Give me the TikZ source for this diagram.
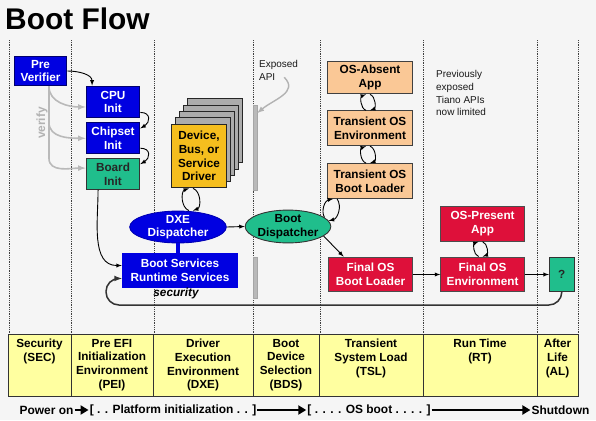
\documentclass[tikz,border=0pt]{standalone}
\usepackage{fontspec}
\setmainfont{Liberation Sans}
\setsansfont{Liberation Sans}
\usepackage{tikz}
\usetikzlibrary{arrows,arrows.meta,shapes,positioning}

\definecolor{BlueBox}{RGB}{0,0,225}
\definecolor{NavyLine}{RGB}{0,0,110}
\definecolor{TealBox}{RGB}{32,190,140}
\definecolor{RedBox}{RGB}{222,16,58}
\definecolor{TanBox}{RGB}{250,200,150}
\definecolor{DriverGold}{RGB}{245,190,30}
\definecolor{PhaseYellow}{RGB}{255,255,160}
\definecolor{PaperGray}{RGB}{245,245,245}

\newcommand{\boxfont}{\fontsize{11.8}{13.7}\selectfont\bfseries}
\newcommand{\notefont}{\fontsize{10}{13}\selectfont}

\tikzset{
  basic/.style     = {draw, rectangle, align=center, font=\boxfont, inner sep=0pt, line width=0.9pt},
  blue box/.style  = {basic, fill=BlueBox, draw=NavyLine, text=white, minimum width=54, minimum height=31},
  teal box/.style  = {basic, fill=TealBox, draw=black!80, text=black!85},
  red box/.style   = {basic, fill=RedBox, draw=black!70, text=white, minimum width=85, minimum height=35},
  tan box/.style   = {basic, fill=TanBox, draw=black!75, minimum width=86, minimum height=35},
  driver/.style    = {basic, fill=DriverGold, draw=black!85, minimum width=56, minimum height=64},
  driver back/.style = {basic, fill=gray!65, draw=black!85, minimum width=56, minimum height=64},
  disp/.style      = {basic, ellipse, inner xsep=-2pt, inner ysep=-6pt, minimum width=97, minimum height=32},
  api bar/.style   = {rectangle, fill=gray!55, draw=gray!70, minimum width=4, inner sep=0pt},
  lane/.style      = {densely dotted, black!75, line width=0.8pt},
  flow/.style      = {->, >=latex, black, line width=0.9pt},
  dxe stem/.style  = {BlueBox, line width=3.5pt},
  verify link/.style = {->, >=latex, gray!55, line width=1.6pt},
  api arrow/.style = {->, >=latex, gray!60, line width=1.4pt},
  return line/.style = {->, >=latex, black!80, line width=1.5pt, rounded corners=13},
  side note/.style = {align=left, font=\notefont, text=black!90, inner sep=0pt},
  phase cell/.style = {align=center, font=\boxfont, anchor=north, inner sep=0pt},
  bottom txt/.style = {font=\fontsize{12}{14}\selectfont\bfseries, inner sep=1pt},
  power arrow/.style = {-{Triangle[length=8bp,width=9bp]}, black, line width=2pt}
}

\begin{document}
\begin{tikzpicture}[x=1bp, y=1bp]
\useasboundingbox (0,0) rectangle (596,420);
\fill[PaperGray] (0,0) rectangle (596,420);

% title
\node[anchor=base west, inner sep=0pt, font=\fontsize{30}{34}\selectfont\bfseries] (title) at (5,390) {Boot Flow};

% phase lanes
\foreach \x in {9,71,154,253,320,423,537,578}
  \draw[lane] (\x,380) -- (\x,86);

% SEC and PEI
\node[blue box, minimum width=53, minimum height=30] (pre) at (40.5,349) {Pre\\Verifier};
\node[blue box, minimum height=32] (cpu) at (113,318) {CPU\\Init};
\node[blue box, below=4bp of cpu] (chip) {Chipset\\Init};
\node[teal box, minimum width=54, minimum height=31, below=4bp of chip] (board) {Board\\Init};

\draw[flow] (pre.east) to[out=0,in=90] ([xshift=-21]cpu.north);
\draw[flow] ([yshift=6]cpu.south east) to[out=0,in=30,looseness=1.8] ([yshift=-6]chip.north east);
\draw[flow] ([yshift=6]chip.south east) to[out=0,in=30,looseness=1.8] ([yshift=-6]board.north east);

% verify arrows
\coordinate (vsrc) at ([xshift=8.5]pre.south);
\draw[verify link] (vsrc) to[out=-90,in=180] ([yshift=-5]cpu.west);
\draw[verify link] (vsrc) -- (vsrc |- chip.north) to[out=-90,in=180] (chip.west);
\draw[verify link] (vsrc) -- (vsrc |- board.north) to[out=-90,in=180] ([yshift=6]board.west);
\node[rotate=90, inner sep=0pt, text=gray!60, font=\fontsize{12}{14}\selectfont\bfseries] (verifylbl) at (42,297) {verify};

% DXE
\foreach \k in {4,3,2,1}
  \node[driver back] (drv\k) at ({199+4*\k},{264+6.3*\k}) {};
\node[driver] (drv) at (199,264) {Device,\\Bus, or\\Service\\Driver};

\node[disp, fill=BlueBox, draw=BlueBox!80!black, text=white] (dxe) at (178,193) {DXE\\Dispatcher};
\node[basic, fill=BlueBox, draw=BlueBox, text=white, minimum width=116, minimum height=35] (bsrs) at (180,149.5) {Boot Services\\Runtime Services};
\node[inner sep=0pt, font=\fontsize{11.8}{13}\selectfont\bfseries\itshape] (seclbl) at (176,127) {security};
\draw[dxe stem] (dxe.south) -- (dxe.south |- bsrs.north);

\draw[flow] ([xshift=-6]drv.south) to[bend left=70] ([xshift=15]dxe.north);
\draw[flow] ([xshift=11]dxe.north) to[bend left=70] ([xshift=-10]drv.south);
\draw[flow] ([xshift=-15]board.south) to[out=-90,in=180] ([yshift=5]bsrs.west);

% exposed API
\node[api bar, minimum height=85] (bar1) at (255,272.5) {};
\node[api bar, minimum height=41] (bar2) at (255,142.5) {};
\node[side note, anchor=west] (expo) at (259,350) {Exposed\\API};
\draw[api arrow] ([xshift=-14,yshift=3]expo.south east) to[out=-45,in=40,looseness=1.2] ([yshift=34.5]bar1.east);

% BDS
\node[disp, fill=TealBox, draw=black!80, minimum width=86, minimum height=33] (bds) at (288,193.5) {Boot\\Dispatcher};
\draw[flow] (dxe.east) -- (bds.west);

% TSL
\node[tan box, minimum height=33] (osapp) at (370,342.5) {OS-Absent\\App};
\node[tan box, below=16bp of osapp] (tosenv) {Transient OS\\Environment};
\node[tan box, below=17bp of tosenv] (tosbl) {Transient OS\\Boot Loader};

\draw[flow] ([xshift=0]osapp.south) to[bend left=70] ([xshift=0]tosenv.north);
\draw[flow] ([xshift=-4]tosenv.north) to[bend left=70] ([xshift=-4]osapp.south);
\draw[flow] ([xshift=0]tosenv.south) to[bend left=70] ([xshift=0]tosbl.north);
\draw[flow] ([xshift=-4]tosbl.north) to[bend left=70] ([xshift=-4]tosenv.south);
\draw[flow] ([xshift=-33]tosbl.south) to[bend left=55] (bds.8);
\draw[flow] (bds.14) to[bend left=55] ([xshift=-37]tosbl.south);

\node[side note, anchor=west] (prevnote) at (436,327) {Previously\\exposed\\Tiano APIs\\now limited};

% RT
\node[red box] (fosbl) at (370.5,145.5) {Final OS\\Boot Loader};
\node[red box, minimum width=84, right=27bp of fosbl] (fosenv) {Final OS\\Environment};
\node[red box, minimum width=84, above=15bp of fosenv] (osprapp) {OS-Present\\App};
\node[teal box, minimum width=25, minimum height=34, right=24bp of fosenv] (afterq) {?};

\draw[flow] (bds.-15) -- ([xshift=-27]fosbl.north);
\draw[flow] (fosbl.east) -- (fosenv.west);
\draw[flow] (fosenv.east) -- (afterq.west);
\draw[flow] ([xshift=0]osprapp.south) to[bend left=70] ([xshift=0]fosenv.north);
\draw[flow] ([xshift=-4]fosenv.north) to[bend left=70] ([xshift=-4]osprapp.south);

% back to the boot services
\coordinate (retcorner) at (106,115);
\draw[return line] (afterq.south) |- (retcorner) |- ([yshift=-8]bsrs.west);

% phase table
\draw[fill=PhaseYellow, draw=black!80, line width=0.9pt] (8,24) rectangle (578,86);
\foreach \x in {71,153,253,319,423,537}
  \draw[black!80, line width=0.8pt] (\x,24) -- (\x,86);
\node[phase cell] (sec) at (39.5,81) {Security\\(SEC)};
\node[phase cell] (pei) at (112,81) {Pre EFI\\Initialization\\Environment\\(PEI)};
\node[phase cell] (dxephase) at (203,81) {Driver\\Execution\\Environment\\(DXE)};
\node[phase cell] (bdsphase) at (286,81) {Boot\\Device\\Selection\\(BDS)};
\node[phase cell] (tsl) at (371,81) {Transient\\System Load\\(TSL)};
\node[phase cell] (rt) at (480,81) {Run Time\\(RT)};
\node[phase cell] (al) at (557.5,81) {After\\Life\\(AL)};

% boot timeline
\node[bottom txt] (pwr) at (46.5,10) {Power on};
\node[bottom txt] (plat) at (173,10) {[ . . Platform initialization . . ]};
\node[bottom txt] (osboot) at (369,10) {[ . . . . OS boot . . . . ]};
\node[bottom txt] (shut) at (560.5,10) {Shutdown};
\draw[power arrow] (pwr.east) -- (plat.west);
\draw[power arrow] (plat.east) -- (osboot.west);
\draw[power arrow] (osboot.east) -- (shut.west);

\end{tikzpicture}
\end{document}
